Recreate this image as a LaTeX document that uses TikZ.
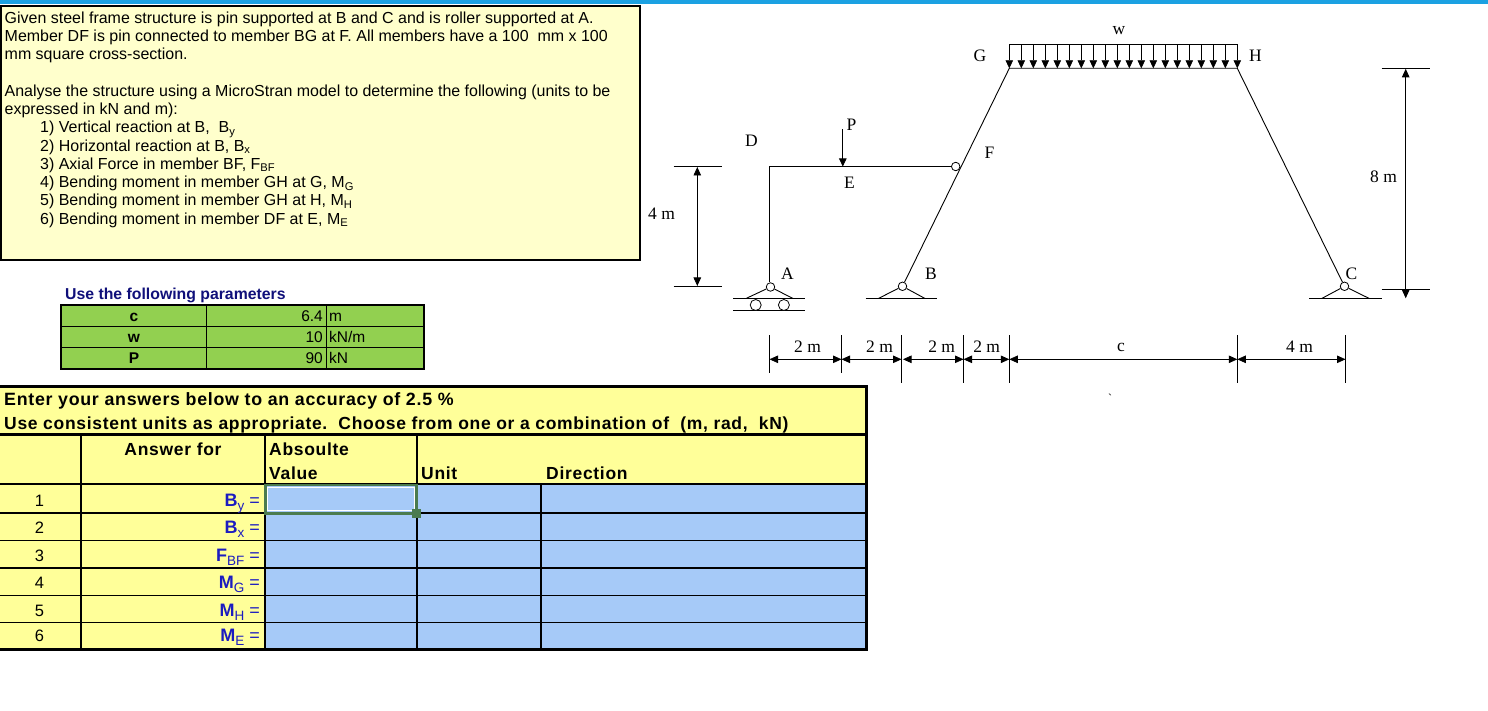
\documentclass[tikz,border=0pt]{standalone}
\usepackage{fontspec}
\setmainfont{Liberation Sans}
\newfontfamily\serifface{Liberation Serif}
\newfontfamily\headface[LetterSpace=4]{Liberation Sans}
\usetikzlibrary{arrows.meta}
\definecolor{bandblue}{HTML}{1BA1E2}
\definecolor{notecream}{HTML}{FFFFCC}
\definecolor{paramgreen}{HTML}{92D050}
\definecolor{headyellow}{HTML}{FFFF99}
\definecolor{cellblue}{HTML}{A6CAF8}
\definecolor{selectgreen}{HTML}{4A7B4F}
\definecolor{labelblue}{HTML}{1C1CC0}
\definecolor{titlenavy}{HTML}{10107A}
\newcommand{\answersub}[1]{\raisebox{-4pt}{\mdseries\fontsize{13.5}{14}\selectfont #1}}
\tikzset{
  member/.style={line width=0.9pt},
  pinjoint/.style={circle,draw,fill=white,line width=0.8pt,inner sep=0pt,minimum size=8.5pt},
  wheel/.style={circle,draw,fill=white,line width=0.8pt,inner sep=0pt,minimum size=11pt},
  lab/.style={font=\serifface\fontsize{17.5}{20}\selectfont,inner sep=0pt,yshift=-1pt},
  dimline/.style={line width=0.8pt,{Triangle[length=8.5pt,width=7.5pt]}-{Triangle[length=8.5pt,width=7.5pt]}},
  tick/.style={line width=0.8pt},
  loadarrow/.style={line width=0.8pt,-{Triangle[length=8pt,width=7.5pt]}},
  sheet/.style={font=\fontsize{15.5}{18}\selectfont,inner sep=0pt},
  headcell/.style={font=\headface\bfseries\fontsize{17.5}{20}\selectfont,inner sep=0pt,anchor=base west},
  answerlab/.style={font=\bfseries\fontsize{18}{20}\selectfont,text=labelblue,inner sep=0pt,anchor=base east}
}
\begin{document}
\begin{tikzpicture}[x=1pt,y=-1pt]
  \useasboundingbox (0,0) rectangle (1488,711);
  \fill[white] (0,0) rectangle (1488,711);
  \fill[bandblue] (0,0) rectangle (1488,3.8);

  \draw[fill=notecream,line width=2pt] (0.5,5.8) rectangle (640,260.5);
  \node[anchor=north west,inner sep=0pt,align=left,font=\fontsize{15.98}{18.25}\selectfont] (note) at (4.5,11.5)
    {Given steel frame structure is pin supported at B and C and is roller supported at A.\\
     Member DF is pin connected to member BG at F. All members have a 100\ \ mm x 100\\
     mm square cross-section.\\[18.25pt]
     Analyse the structure using a MicroStran model to determine the following (units to be\\
     expressed in kN and m):\\
     \hspace*{35.5pt}1) Vertical reaction at B,\ \ B\textsubscript{y}\\
     \hspace*{35.5pt}2) Horizontal reaction at B, B\textsubscript{x}\\
     \hspace*{35.5pt}3) Axial Force in member BF, F\textsubscript{BF}\\
     \hspace*{35.5pt}4) Bending moment in member GH at G, M\textsubscript{G}\\
     \hspace*{35.5pt}5) Bending moment in member GH at H, M\textsubscript{H}\\
     \hspace*{35.5pt}6) Bending moment in member DF at E, M\textsubscript{E}};

  \node[anchor=base west,inner sep=0pt,text=titlenavy,font=\bfseries\fontsize{15.8}{18}\selectfont] (paramtitle) at (65,300) {Use the following parameters};
  \fill[paramgreen] (61,305) rectangle (424,369);
  \draw[line width=0.9pt] (61,326) -- (424,326) (61,347.5) -- (424,347.5) (206.5,305) -- (206.5,369) (326.5,305) -- (326.5,369);
  \draw[line width=2pt] (61,305) rectangle (424,369);
  \foreach \ypos/\pname/\pvalue/\punit in {321.5/c/6.4/m,342.5/w/10/kN\slash m,363.5/P/90/kN} {
    \node[sheet,anchor=base,font=\bfseries\fontsize{15.5}{18}\selectfont] (name\pname) at (134,\ypos) {\pname};
    \node[sheet,anchor=base east] (value\pname) at (323,\ypos) {\pvalue};
    \node[sheet,anchor=base west] (unit\pname) at (329,\ypos) {\punit};
  }

  \fill[headyellow] (0,385) rectangle (867,650);
  \fill[cellblue] (265,484) rectangle (867,650);
  \foreach \ypos in {513,540.5,568,595.5,622.5}
    \draw[line width=1.1pt] (0,\ypos) -- (867,\ypos);
  \draw[line width=1.1pt] (81,434) -- (81,650) (265,434) -- (265,650) (417,434) -- (417,650) (541,484) -- (541,650);
  \draw[line width=2.2pt] (0,434.5) -- (867,434.5) (0,484) -- (867,484);
  \draw[line width=3pt] (0,386) -- (866,386) -- (866,649.5) -- (0,649.5);
  \draw[white,line width=1pt] (267.5,487.5) rectangle (414.5,510.5);
  \draw[selectgreen,line width=2.6pt] (265.5,485) rectangle (416.5,513.5);
  \fill[selectgreen] (411.5,508.5) rectangle (421,517.5);

  \node[headcell,font=\headface\bfseries\fontsize{17.8}{20}\selectfont] (accuracy) at (4,405) {Enter your answers below to an accuracy of 2.5 \%};
  \node[headcell] (consistent) at (4,429) {Use consistent units as appropriate.\ \ Choose from one or a combination of\ \ (m, rad,\ \ kN)};
  \node[headcell,anchor=base] (answerfor) at (173,455) {Answer for};
  \node[headcell] (absolute) at (269,455) {Absoulte};
  \node[headcell] (valuehead) at (269,479) {Value};
  \node[headcell] (unithead) at (421,479) {Unit};
  \node[headcell] (directionhead) at (546,479) {Direction};
  \foreach \rownum/\ypos/\rowtext in {1/506/B\answersub{y},2/533/B\answersub{x},3/561/F\answersub{BF},4/588.5/M\answersub{G},5/616/M\answersub{H},6/641/M\answersub{E}} {
    \node[sheet,anchor=base,font=\fontsize{16.5}{20}\selectfont] (row\rownum) at (39.5,\ypos) {\rownum};
    \node[answerlab] (answer\rownum) at (260,\ypos) {\rowtext\ {\mdseries =}};
  }

  \coordinate (D) at (769.5,166.5);
  \coordinate (G) at (1009.3,68.3);
  \coordinate (H) at (1237.3,68.3);
  \node[pinjoint] (pinA) at (770.5,287) {};
  \node[pinjoint] (pinB) at (902.5,286.3) {};
  \node[pinjoint] (pinC) at (1344.5,286.3) {};
  \node[pinjoint] (pinF) at (955.7,166.5) {};

  \draw[member] (D |- pinA.north) -- (D) -- (pinF);
  \draw[member] (pinB) -- (G) -- (H) -- (pinC);

  \draw[member] (746,298.5) -- (pinA) -- (793,298.5);
  \draw[member] (733,298.5) -- (805,298.5);
  \draw[member] (733,310.5) -- (805,310.5);
  \node[wheel] (wheelleft) at (755.7,305) {};
  \node[wheel] (wheelright) at (783.9,305) {};
  \draw[member] (878.3,298.5) -- (pinB) -- (925,298.5);
  \draw[member] (865.7,298.5) -- (937.3,298.5);
  \draw[member] (1321.7,298.5) -- (pinC) -- (1369.3,298.5);
  \draw[member] (1309,298.5) -- (1381.7,298.5);

  \draw[member] (1009.3,44.3) -- (1237.3,44.3);
  \foreach \i in {0,...,19}
    \draw[loadarrow] (1009.3+12*\i,44.3) -- (1009.3+12*\i,68.3);
  \coordinate (Ptop) at (842.8,129.5);
  \coordinate (E) at (842.8,166.5);
  \draw[loadarrow] (Ptop) -- (E);

  \draw[tick] (673.5,166.5) -- (721.5,166.5);
  \draw[tick] (673.5,286.3) -- (721.5,286.3);
  \draw[dimline] (697.3,167) -- (697.3,286);
  \draw[tick] (1381.7,68.3) -- (1429.5,68.3);
  \draw[tick] (1381.7,289.3) -- (1429.5,289.3);
  \draw[dimline] (1405.7,68.8) -- (1405.7,298.3);

  \foreach \xpos/\ybot in {769.5/372.5,841.5/372.5,901.5/383,963.5/383,1009.3/383,1237.3/383,1345.5/383}
    \draw[tick] (\xpos,335) -- (\xpos,\ybot);
  \foreach \xa/\xb in {769.5/841.5,841.5/901.5,903/963.5,963.5/1009.3,1009.3/1237.3,1237.3/1345.5}
    \draw[dimline] (\xa,359.3) -- (\xb,359.3);

  \node[lab] (labA) at (787.5,273) {A};
  \node[lab] (labB) at (931,273) {B};
  \node[lab] (labC) at (1351.5,273) {C};
  \node[lab] (labD) at (751.5,140) {D};
  \node[lab] (labE) at (849.5,182) {E};
  \node[lab] (labF) at (989.5,152) {F};
  \node[lab] (labG) at (980,55) {G};
  \node[lab] (labH) at (1255.5,55) {H};
  \node[lab] (labP) at (851.5,124) {P};
  \node[lab] (labw) at (1119,30) {w};
  \node[lab] (dimleft) at (661.5,213) {4 m};
  \node[lab] (dimright) at (1383.5,176) {8 m};
  \node[lab] (dimone) at (807.5,346) {2 m};
  \node[lab] (dimtwo) at (879.5,346) {2 m};
  \node[lab] (dimthree) at (941.7,346) {2 m};
  \node[lab] (dimfour) at (986.7,346) {2 m};
  \node[lab] (dimc) at (1121,346) {c};
  \node[lab] (dimfive) at (1299.5,346) {4 m};
  \node[lab,font=\serifface\fontsize{12}{12}\selectfont] (speck) at (1110,397) {`};
\end{tikzpicture}
\end{document}
